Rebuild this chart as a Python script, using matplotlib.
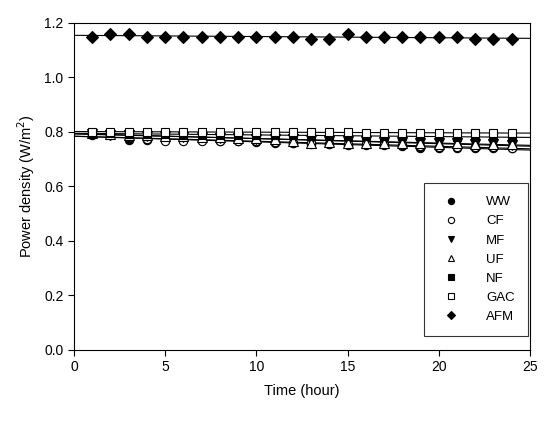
import numpy as np
from matplotlib import pyplot as plt

plt.rcParams['font.family'] = ['Liberation Sans', 'DejaVu Sans']

hours = list(range(1, 25))

ww = [0.790, 0.790, 0.770, 0.770, 0.770, 0.770, 0.770, 0.768, 0.766, 0.762, 0.760, 0.758,
      0.755, 0.754, 0.752, 0.750, 0.750, 0.748, 0.742, 0.742, 0.740, 0.740, 0.740, 0.740]
cf = [0.795, 0.790, 0.780, 0.775, 0.766, 0.766, 0.766, 0.765, 0.765, 0.765, 0.763, 0.760,
      0.760, 0.757, 0.755, 0.755, 0.755, 0.752, 0.748, 0.746, 0.745, 0.745, 0.744, 0.742]
mf = [0.792, 0.790, 0.788, 0.786, 0.784, 0.782, 0.780, 0.778, 0.776, 0.775, 0.773, 0.772,
      0.770, 0.765, 0.766, 0.765, 0.764, 0.762, 0.760, 0.760, 0.758, 0.756, 0.755, 0.753]
uf = [0.795, 0.792, 0.790, 0.788, 0.786, 0.784, 0.782, 0.780, 0.778, 0.776, 0.773, 0.765,
      0.760, 0.762, 0.760, 0.760, 0.760, 0.758, 0.760, 0.756, 0.758, 0.757, 0.755, 0.755]
nf = [0.795, 0.795, 0.793, 0.792, 0.792, 0.790, 0.790, 0.790, 0.789, 0.788, 0.788, 0.787,
      0.786, 0.786, 0.785, 0.785, 0.785, 0.784, 0.783, 0.783, 0.782, 0.782, 0.781, 0.780]
gac = [0.800, 0.800, 0.800, 0.800, 0.800, 0.800, 0.800, 0.800, 0.800, 0.799, 0.799, 0.799,
       0.798, 0.798, 0.798, 0.797, 0.797, 0.797, 0.797, 0.796, 0.796, 0.796, 0.796, 0.795]
afm = [1.150, 1.160, 1.160, 1.150, 1.150, 1.150, 1.150, 1.150, 1.150, 1.150, 1.150, 1.150,
       1.140, 1.140, 1.160, 1.150, 1.150, 1.150, 1.150, 1.150, 1.150, 1.140, 1.140, 1.140]

labels = ['WW', 'CF', 'MF', 'UF', 'NF', 'GAC', 'AFM']
series = [ww, cf, mf, uf, nf, gac, afm]
markers = ['o', 'o', 'v', '^', 's', 's', 'D']
faces = ['black', 'white', 'black', 'white', 'black', 'white', 'black']
sizes = [6, 6, 6.5, 6.5, 6, 6, 6]

fig = plt.figure(figsize=(5.5, 4.22), dpi=100)
ax = fig.add_axes([0.1345, 0.1718, 0.829, 0.7737])

xfit = np.array([0, 25])
for y, m, fc, ms, lab in zip(series, markers, faces, sizes, labels):
    k, b = np.polyfit(hours, y, 1)
    ax.plot(xfit, k * xfit + b, color='black', lw=0.8, zorder=2)
    ax.plot(hours, y, linestyle='none', marker=m, markersize=ms,
            markerfacecolor=fc, markeredgecolor='black', markeredgewidth=0.8,
            label=lab, zorder=3)

ax.set_xlim(0, 25)
ax.set_ylim(0, 1.2)
ax.set_xticks(range(0, 26, 5))
ax.set_yticks(np.arange(0, 1.21, 0.2))
ax.yaxis.set_major_formatter(plt.FormatStrFormatter('%.1f'))
ax.tick_params(direction='out', length=4, labelsize=10)
ax.set_xlabel('Time (hour)', fontsize=10.5, labelpad=7)
ax.set_ylabel('Power density (W/m$^2$)', fontsize=10.5, labelpad=5)

leg = ax.legend(loc='lower right', bbox_to_anchor=(0.996, 0.041), fontsize=9.5,
                frameon=True, fancybox=False, edgecolor='black', markerscale=0.75,
                handletextpad=1.7, labelspacing=0.52, borderpad=1.0,
                handlelength=2.0, borderaxespad=0)
leg.get_frame().set_linewidth(0.8)

fig.savefig('out.png', dpi=100)
